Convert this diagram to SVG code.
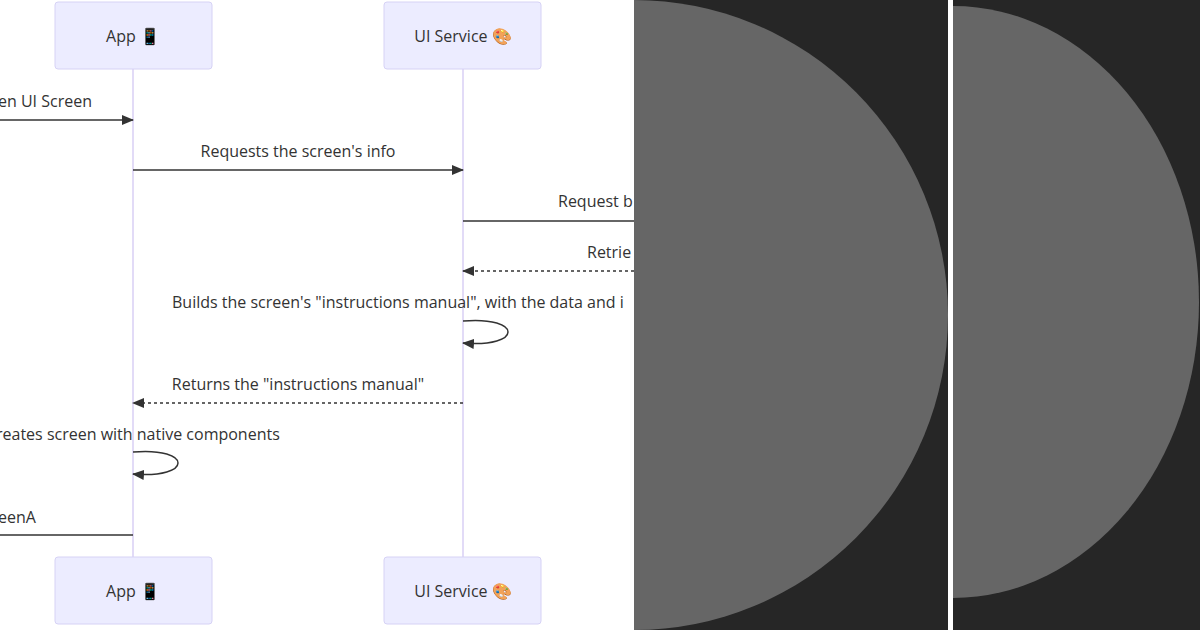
<svg xmlns="http://www.w3.org/2000/svg" width="1200" height="630" viewBox="0 0 1200 630">
<style>
.box{fill:#ececff;stroke:#d6d2f5;stroke-width:1}
.life{stroke:#d9cff5;stroke-width:1.5}
.msg{stroke:#333;stroke-width:1.5;fill:none}
.dash{stroke-dasharray:3,3}
text{font-family:"Open Sans","DejaVu Sans",sans-serif;font-size:16px;fill:#333}
.c{text-anchor:middle}
</style>
<defs>
<marker id="ah" markerWidth="12" markerHeight="12" refX="11" refY="6" orient="auto" markerUnits="userSpaceOnUse">
<path d="M0,1 L12,6 L0,11 z" fill="#333"/>
</marker>
</defs>
<rect width="1200" height="630" fill="#fff"/>
<line class="life" x1="133" y1="69" x2="133" y2="557"/>
<line class="life" x1="463" y1="69" x2="463" y2="557"/>
<g id="app-top"><rect class="box" x="55" y="2" width="157" height="67" rx="3"/><text class="c" x="133" y="42">App 📱</text></g>
<g id="ui-top"><rect class="box" x="384" y="2" width="157" height="67" rx="3"/><text class="c" x="463" y="42">UI Service 🎨</text></g>
<g id="app-bottom"><rect class="box" x="55" y="557" width="157" height="67" rx="3"/><text class="c" x="133" y="597">App 📱</text></g>
<g id="ui-bottom"><rect class="box" x="384" y="557" width="157" height="67" rx="3"/><text class="c" x="463" y="597">UI Service 🎨</text></g>
<g id="connectors">
<line class="msg" x1="0" y1="120" x2="133" y2="120" marker-end="url(#ah)"/>
<text x="-2" y="107">en UI Screen</text>
<line class="msg" x1="133" y1="170" x2="463" y2="170" marker-end="url(#ah)"/>
<text class="c" x="298" y="157">Requests the screen's info</text>
<line class="msg" x1="463" y1="221" x2="640" y2="221"/>
<text x="558" y="207">Request b</text>
<line class="msg dash" x1="640" y1="271" x2="463" y2="271" marker-end="url(#ah)"/>
<text x="587" y="258">Retrie</text>
<text x="172" y="308">Builds the screen's "instructions manual", with the data and i</text>
<path class="msg" d="M463,321 C523,316 523,348 463,343" marker-end="url(#ah)"/>
<line class="msg dash" x1="463" y1="403" x2="133" y2="403" marker-end="url(#ah)"/>
<text class="c" x="298" y="390">Returns the "instructions manual"</text>
<text x="-4" y="440">reates screen with native components</text>
<path class="msg" d="M133,452 C193,447 193,479 133,474" marker-end="url(#ah)"/>
<line class="msg" x1="0" y1="535" x2="133" y2="535"/>
<text x="-2" y="523">eenA</text>
</g>
<rect x="634" y="0" width="314" height="630" fill="#262626"/>
<rect x="953" y="0" width="247" height="630" fill="#262626"/>
<path d="M634,0 A314,315 0 0 1 634,630 Z" fill="#666"/>
<path d="M953,6 A246,296 0 0 1 953,598 Z" fill="#666"/>
</svg>
